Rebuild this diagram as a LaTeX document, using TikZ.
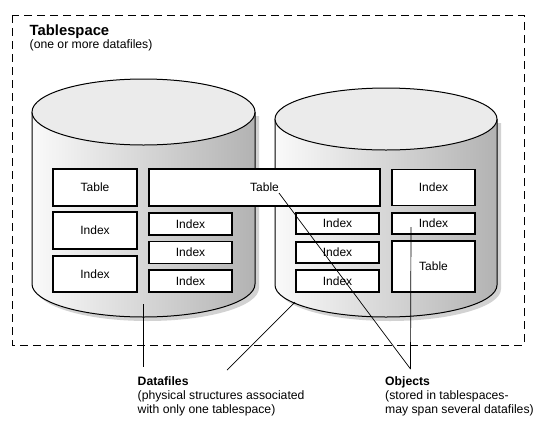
\documentclass[tikz,border=0pt]{standalone}
\usepackage{fontspec}
\setmainfont{Liberation Sans}
\usetikzlibrary{positioning}

\tikzset{
  obj/.style={draw, line width=1.2pt, fill=white, inner sep=0pt,
    font=\fontsize{12}{13}\selectfont},
  note/.style={anchor=base west, inner sep=0pt, font=\fontsize{12.2}{14}\selectfont},
  lead/.style={line width=0.7pt},
  drum/.style={line width=1pt}
}

\begin{document}
\begin{tikzpicture}[x=1pt, y=-1pt]
\useasboundingbox (0,0) rectangle (538,424);
\draw[line width=1pt, dash pattern=on 8pt off 5pt] (12,15) rectangle (524,345);
\node[anchor=base west, inner sep=0pt, font=\bfseries\fontsize{14.8}{16}\selectfont] (ts) at (29.5,35.5) {Tablespace};
\node[note] (tsnote) at (29.5,48.5) {(one or more datafiles)};
% left datafile
\fill[gray!35] (36,116) -- (36,288) arc[start angle=180, end angle=360, x radius=111.5pt, y radius=33pt] -- (259,116) -- cycle;
\shade[drum, left color=black!2, right color=black!30] (32,112) -- (32,284) arc[start angle=180, end angle=360, x radius=111.5pt, y radius=33pt] -- (255,112) -- cycle;
\draw[drum] (32,112) -- (32,284) arc[start angle=180, end angle=360, x radius=111.5pt, y radius=33pt] -- (255,112);
\draw[drum, fill=black!8] (143.5,112) ellipse[x radius=111.5pt, y radius=33pt];
% right datafile
\fill[gray!35] (279,123) -- (279,289) arc[start angle=180, end angle=360, x radius=111pt, y radius=32pt] -- (501,123) -- cycle;
\shade[drum, left color=black!2, right color=black!30] (275,119) -- (275,285) arc[start angle=180, end angle=360, x radius=111pt, y radius=32pt] -- (497,119) -- cycle;
\draw[drum] (275,119) -- (275,285) arc[start angle=180, end angle=360, x radius=111pt, y radius=32pt] -- (497,119);
\draw[drum, fill=black!8] (386,119) ellipse[x radius=111pt, y radius=31pt];
% objects
\node[obj, minimum width=84pt, minimum height=37pt] (ltab) at (95,187.5) {Table};
\node[obj, minimum width=84pt, minimum height=37pt] (lidx1) at (95,230.5) {Index};
\node[obj, minimum width=84pt, minimum height=36pt] (lidx2) at (95,274) {Index};
\node[obj, minimum width=231pt, minimum height=37pt] (wtab) at (264.5,187.5) {Table};
\node[obj, minimum width=83pt, minimum height=22pt] (lsm1) at (190.5,224) {Index};
\node[obj, minimum width=83pt, minimum height=22pt] (lsm2) at (190.5,252.5) {Index};
\node[obj, minimum width=83pt, minimum height=22pt] (lsm3) at (190.5,281) {Index};
\node[obj, minimum width=83pt, minimum height=21pt] (rsm1) at (337.5,223.5) {Index};
\node[obj, minimum width=83pt, minimum height=21pt] (rsm2) at (337.5,252.5) {Index};
\node[obj, minimum width=83pt, minimum height=22pt] (rsm3) at (337.5,281) {Index};
\node[obj, minimum width=83pt, minimum height=36pt] (ridx1) at (433.5,187.5) {Index};
\node[obj, minimum width=83pt, minimum height=21pt] (ridx2) at (433.5,223.5) {Index};
\node[obj, minimum width=83pt, minimum height=51pt] (rtab) at (433.5,266.5) {Table};
% leaders
\coordinate (dfa) at (143,304);
\coordinate (dfb) at (143,367);
\coordinate (dfc) at (295,302);
\coordinate (dfd) at (227,370);
\coordinate (oba) at (279,193);
\coordinate (obc) at (411,227);
\coordinate (obe) at (410.5,369);
\draw[lead] (dfa) -- (dfb);
\draw[lead] (dfc) -- (dfd);
\draw[lead] (oba) -- (obe);
\draw[lead] (obc) -- (obe);
\node[anchor=base west, inner sep=0pt, font=\bfseries\fontsize{12.2}{14}\selectfont] (df) at (137.5,385.3) {Datafiles};
\node[note] (dfn1) at (137.5,399.3) {(physical structures associated};
\node[note] (dfn2) at (137.5,413) {with only one tablespace)};
\node[anchor=base west, inner sep=0pt, font=\bfseries\fontsize{12.2}{14}\selectfont] (ob) at (385,385.3) {Objects};
\node[note] (obn1) at (385,399.3) {(stored in tablespaces-};
\node[note] (obn2) at (385,413) {may span several datafiles)};
\end{tikzpicture}
\end{document}
